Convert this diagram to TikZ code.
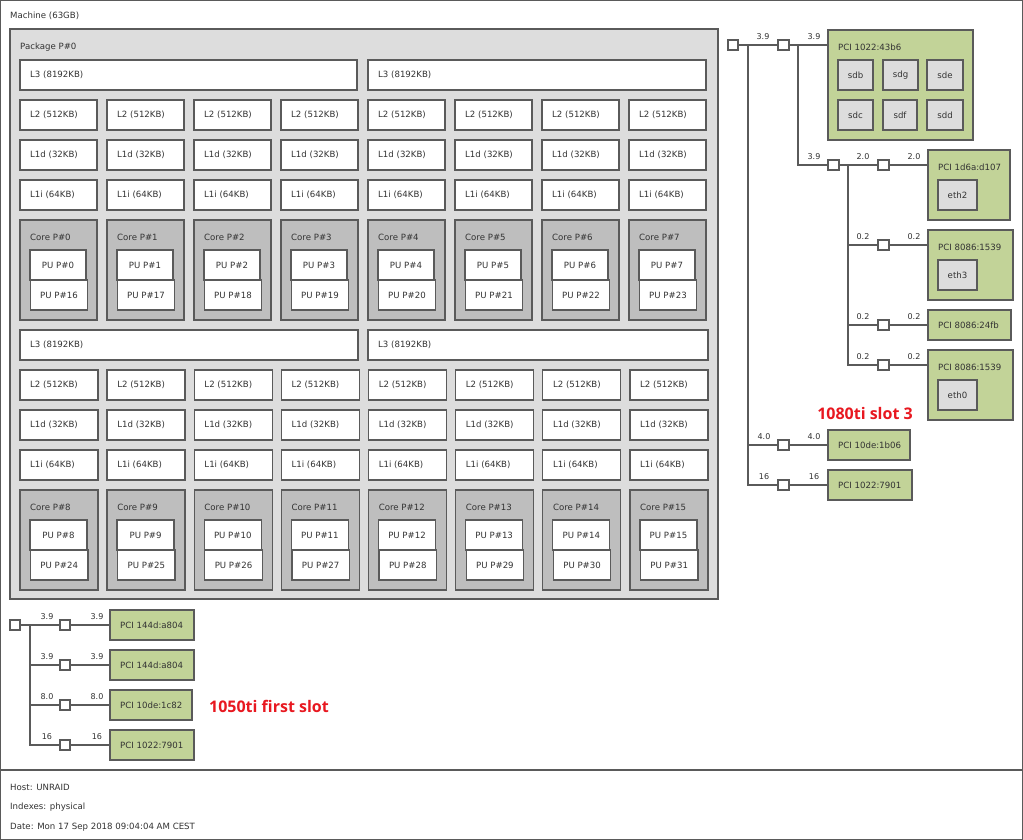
\documentclass[tikz,border=0pt]{standalone}
\usepackage{fontspec}
\setmainfont{DejaVu Sans}
\newfontfamily\redfont{Open Sans}
\usetikzlibrary{calc}
\definecolor{edge}{RGB}{90,90,90}
\definecolor{pkgfill}{RGB}{221,221,221}
\definecolor{corefill}{RGB}{190,190,190}
\definecolor{pcifill}{RGB}{194,211,152}
\definecolor{txtc}{RGB}{50,50,50}
\definecolor{notec}{RGB}{232,24,32}
\tikzset{
 obj/.style={draw=edge, line width=1.3pt, anchor=north west, inner sep=0pt, outer sep=0pt},
 cache/.style={obj, fill=white},
 pkg/.style={obj, fill=pkgfill},
 corebox/.style={obj, fill=corefill},
 pubox/.style={obj, fill=white},
 pcibox/.style={obj, fill=pcifill},
 osdev/.style={obj, fill=pkgfill},
 bridge/.style={obj, fill=white},
 lbl/.style={font=\fontsize{8.6}{10}\selectfont, text=txtc, inner sep=0pt, anchor=west},
 clbl/.style={lbl, anchor=center},
 speed/.style={font=\fontsize{8}{10}\selectfont, text=txtc, inner sep=0pt},
 wire/.style={draw=edge, line width=1.3pt},
 notetext/.style={font=\redfont\bfseries\fontsize{16}{18}\selectfont, text=notec, inner sep=0pt},
}
\newcommand\obj[6]{\node[#2, minimum width=#5pt, minimum height=#6pt] (#1) at (#3,#4) {};}
\begin{document}
\begin{tikzpicture}[x=1pt,y=-1pt]
\useasboundingbox (0,0) rectangle (1023,840);
% machine and legend
\obj{machine}{obj, fill=white}{0.6}{0.6}{1021.8}{769.4}
\node[lbl] (machine-t) at (10,16) {Machine (63GB)};
\obj{legend}{obj, fill=white}{0.6}{770}{1021.8}{69.4}
\node[lbl] (host-t) at (10,787) {Host: UNRAID};
\node[lbl] (idx-t) at (10,807) {Indexes: physical};
\node[lbl] (date-t) at (10,827) {Date: Mon 17 Sep 2018 09:04:04 AM CEST};
% package
\obj{pkg}{pkg}{10}{29}{708}{570}
\node[lbl] (pkg-t) at (20,47) {Package P\#0};
% first half
\obj{l3a}{cache}{20}{60}{337}{30}
\node[lbl] (l3a-t) at (30,75) {L3 (8192KB)};
\obj{l3b}{cache}{368}{60}{338}{30}
\node[lbl] (l3b-t) at (378,75) {L3 (8192KB)};
\foreach \i in {0,...,7} {
 \pgfmathsetmacro\x{20+87*\i}
 \pgfmathtruncatemacro\pb{\i+16}
 \obj{l2a\i}{cache}{\x}{100}{77}{30}
 \node[lbl] (l2a\i-t) at (\x+10,115) {L2 (512KB)};
 \obj{l1da\i}{cache}{\x}{140}{77}{30}
 \node[lbl] (l1da\i-t) at (\x+10,155) {L1d (32KB)};
 \obj{l1ia\i}{cache}{\x}{180}{77}{30}
 \node[lbl] (l1ia\i-t) at (\x+10,195) {L1i (64KB)};
 \obj{core\i}{corebox}{\x}{220}{77}{100}
 \node[lbl] (core\i-t) at (\x+10,237) {Core P\#\i};
 \obj{pu\i}{pubox}{\x+10}{250}{56}{30}
 \node[clbl] (pu\i-t) at (pu\i.center) {PU P\#\i};
 \obj{pu\pb}{pubox}{\x+10.5}{280}{57}{30}
 \node[clbl] (pu\pb-t) at (pu\pb.center) {PU P\#\pb};
}
% second half
\obj{l3c}{cache}{20}{330}{338}{30}
\node[lbl] (l3c-t) at (30,345) {L3 (8192KB)};
\obj{l3d}{cache}{368}{330}{340}{30}
\node[lbl] (l3d-t) at (378,345) {L3 (8192KB)};
\foreach \i in {0,...,7} {
 \pgfmathsetmacro\x{20+87.14*\i}
 \pgfmathtruncatemacro\ca{\i+8}
 \pgfmathtruncatemacro\pb{\i+24}
 \obj{l2b\i}{cache}{\x}{370}{78}{30}
 \node[lbl] (l2b\i-t) at (\x+10,385) {L2 (512KB)};
 \obj{l1db\i}{cache}{\x}{410}{78}{30}
 \node[lbl] (l1db\i-t) at (\x+10,425) {L1d (32KB)};
 \obj{l1ib\i}{cache}{\x}{450}{78}{30}
 \node[lbl] (l1ib\i-t) at (\x+10,465) {L1i (64KB)};
 \obj{core\ca}{corebox}{\x}{490}{78}{100}
 \node[lbl] (core\ca-t) at (\x+10,507) {Core P\#\ca};
 \obj{pu\ca}{pubox}{\x+10}{520}{57}{30}
 \node[clbl] (pu\ca-t) at (pu\ca.center) {PU P\#\ca};
 \obj{pu\pb}{pubox}{\x+10.5}{550}{57.5}{30}
 \node[clbl] (pu\pb-t) at (pu\pb.center) {PU P\#\pb};
}
% right PCI tree
\obj{hb1}{bridge}{728}{40}{10}{10}
\obj{br1}{bridge}{778}{40}{11}{10}
\obj{pci1}{pcibox}{828}{30}{145}{110}
\node[lbl] (pci1-t) at (838,47) {PCI 1022:43b6};
\obj{sdb}{osdev}{838}{60}{35}{30}\node[clbl] (sdb-t) at (sdb.center) {sdb};
\obj{sdg}{osdev}{883}{60}{35}{30}\node[clbl] (sdg-t) at (sdg.center) {sdg};
\obj{sde}{osdev}{927}{60}{36}{30}\node[clbl] (sde-t) at (sde.center) {sde};
\obj{sdc}{osdev}{838}{100}{35}{30}\node[clbl] (sdc-t) at (sdc.center) {sdc};
\obj{sdf}{osdev}{883}{100}{34}{30}\node[clbl] (sdf-t) at (sdf.center) {sdf};
\obj{sdd}{osdev}{927}{100}{36}{30}\node[clbl] (sdd-t) at (sdd.center) {sdd};
\obj{br2}{bridge}{828}{160}{11}{10}
\obj{br3}{bridge}{878}{160}{11}{10}
\obj{pci2}{pcibox}{928}{150}{82}{70}
\node[lbl] (pci2-t) at (938,167) {PCI 1d6a:d107};
\obj{eth2}{osdev}{938}{180}{39}{30}\node[clbl] (eth2-t) at (eth2.center) {eth2};
\obj{br4}{bridge}{878}{240}{11}{10}
\obj{pci3}{pcibox}{928}{230}{85}{70}
\node[lbl] (pci3-t) at (938,247) {PCI 8086:1539};
\obj{eth3}{osdev}{938}{260}{39}{30}\node[clbl] (eth3-t) at (eth3.center) {eth3};
\obj{br5}{bridge}{878}{320}{11}{10}
\obj{pci4}{pcibox}{928}{310}{83}{30}
\node[lbl] (pci4-t) at (938,325) {PCI 8086:24fb};
\obj{br6}{bridge}{878}{360}{11}{10}
\obj{pci5}{pcibox}{928}{350}{85}{70}
\node[lbl] (pci5-t) at (938,367) {PCI 8086:1539};
\obj{eth0}{osdev}{938}{380}{39}{30}\node[clbl] (eth0-t) at (eth0.center) {eth0};
\obj{br7}{bridge}{778}{440}{11}{10}
\obj{pci6}{pcibox}{828}{430}{82}{30}
\node[lbl] (pci6-t) at (838,445) {PCI 10de:1b06};
\obj{br8}{bridge}{778}{480}{11}{10}
\obj{pci7}{pcibox}{828}{470}{84}{30}
\node[lbl] (pci7-t) at (838,485) {PCI 1022:7901};
\coordinate (bus1) at (748,45);
\coordinate (bus2) at (798,45);
\coordinate (bus3) at (848,165);
\draw[wire] (hb1.east) -- (br1.west);
\draw[wire] (bus1) |- (br7.west);
\draw[wire] (bus1) |- (br8.west);
\draw[wire] (br1.east) -- (br1.east -| pci1.west);
\draw[wire] (bus2) |- (br2.west);
\draw[wire] (br2.east) -- (br3.west);
\draw[wire] (bus3) |- (br4.west);
\draw[wire] (bus3) |- (br5.west);
\draw[wire] (bus3) |- (br6.west);
\draw[wire] (br3.east) -- (br3.east -| pci2.west);
\draw[wire] (br4.east) -- (br4.east -| pci3.west);
\draw[wire] (br5.east) -- (br5.east -| pci4.west);
\draw[wire] (br6.east) -- (br6.east -| pci5.west);
\draw[wire] (br7.east) -- (br7.east -| pci6.west);
\draw[wire] (br8.east) -- (br8.east -| pci7.west);
\node[speed] (s1) at (763,37) {3.9};
\node[speed] (s2) at (814,37) {3.9};
\node[speed] (s3) at (814,157) {3.9};
\node[speed] (s4) at (863,157) {2.0};
\node[speed] (s5) at (914,157) {2.0};
\node[speed] (s6) at (863,237) {0.2};
\node[speed] (s7) at (914,237) {0.2};
\node[speed] (s8) at (863,317) {0.2};
\node[speed] (s9) at (914,317) {0.2};
\node[speed] (s10) at (863,357) {0.2};
\node[speed] (s11) at (914,357) {0.2};
\node[speed] (s12) at (764,437) {4.0};
\node[speed] (s13) at (814,437) {4.0};
\node[speed] (s14) at (764,477) {16};
\node[speed] (s15) at (814,477) {16};
% bottom-left PCI tree
\obj{hb2}{bridge}{10}{620}{10}{10}
\obj{bl1}{bridge}{60}{620}{10}{10}
\obj{bl2}{bridge}{60}{660}{10}{10}
\obj{bl3}{bridge}{60}{700}{10}{10}
\obj{bl4}{bridge}{60}{740}{10}{10}
\obj{q1}{pcibox}{110}{610}{84}{30}
\node[lbl] (q1-t) at (120,625) {PCI 144d:a804};
\obj{q2}{pcibox}{110}{650}{84}{30}
\node[lbl] (q2-t) at (120,665) {PCI 144d:a804};
\obj{q3}{pcibox}{110}{690}{82}{30}
\node[lbl] (q3-t) at (120,705) {PCI 10de:1c82};
\obj{q4}{pcibox}{110}{730}{84}{30}
\node[lbl] (q4-t) at (120,745) {PCI 1022:7901};
\coordinate (bus4) at (30,625);
\draw[wire] (hb2.east) -- (bl1.west);
\draw[wire] (bus4) |- (bl2.west);
\draw[wire] (bus4) |- (bl3.west);
\draw[wire] (bus4) |- (bl4.west);
\draw[wire] (bl1.east) -- (bl1.east -| q1.west);
\draw[wire] (bl2.east) -- (bl2.east -| q2.west);
\draw[wire] (bl3.east) -- (bl3.east -| q3.west);
\draw[wire] (bl4.east) -- (bl4.east -| q4.west);
\node[speed] (t1) at (47,617) {3.9};
\node[speed] (t2) at (97,617) {3.9};
\node[speed] (t3) at (47,657) {3.9};
\node[speed] (t4) at (97,657) {3.9};
\node[speed] (t5) at (47,697) {8.0};
\node[speed] (t6) at (97,697) {8.0};
\node[speed] (t7) at (47,737) {16};
\node[speed] (t8) at (97,737) {16};
% notes
\node[notetext] (n1) at (865,413) {1080ti slot 3};
\node[notetext] (n2) at (269,706) {1050ti first slot};
\end{tikzpicture}
\end{document}
